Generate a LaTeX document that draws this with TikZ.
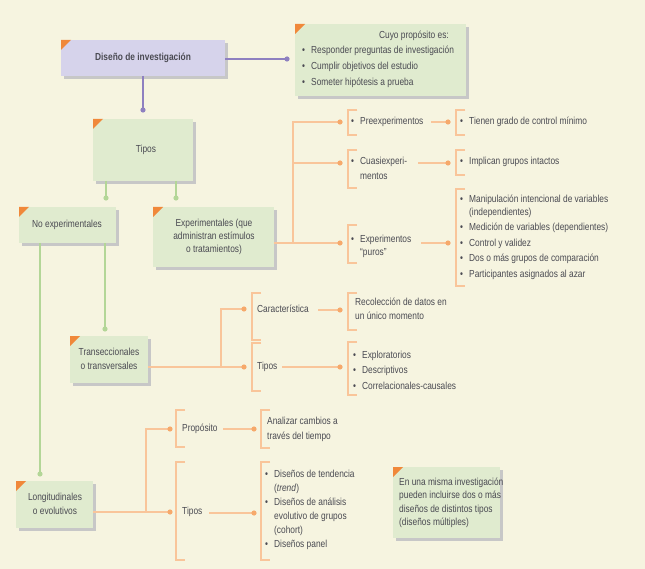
\documentclass[tikz,border=0pt]{standalone}
\usepackage{fontspec}
\setmainfont{Liberation Sans}[FakeStretch=0.82]
\definecolor{bg}{HTML}{F6F4E0}
\definecolor{gbox}{HTML}{E0EBCF}
\definecolor{lbox}{HTML}{D6D3EB}
\definecolor{oline}{HTML}{F9C59A}
\definecolor{odot}{HTML}{F6A96B}
\definecolor{pline}{HTML}{8E80C0}
\definecolor{gline}{HTML}{B3D697}
\definecolor{corner}{HTML}{F0883A}
\definecolor{txt}{HTML}{4A4A52}
\newcommand\bl{\makebox[9pt][l]{\textbullet}}
\newcommand\ind{\hspace*{9pt}}
\tikzset{
  lbl/.style={text=txt, font=\fontsize{10.2}{13}\selectfont, inner sep=0},
  ol/.style={draw=oline, line width=1.6pt},
  brk/.style={draw=oline, line width=1.2pt},
  gl/.style={draw=gline, line width=1.6pt},
  pl/.style={draw=pline, line width=1.6pt},
}
\newcommand\panel[5]{%
  \fill[black!22] (#2+3,#3+3) rectangle (#4+3,#5+3);
  \fill[\pfill] (#2,#3) rectangle (#4,#5);
  \fill[corner] (#2,#3) -- (#2+10,#3) -- (#2,#3+10) -- cycle;
  \coordinate (#1) at ({(#2+#4)/2},{(#3+#5)/2});
}
\newcommand\odt[1]{\fill[odot] (#1) circle (2.6pt);}
\begin{document}
\begin{tikzpicture}[x=1pt,y=-1pt]
\fill[bg] (0,0) rectangle (645,569);
\useasboundingbox (0,0) rectangle (645,569);
% panels
\def\pfill{lbox}\panel{dis}{61}{40}{225}{76}
\def\pfill{gbox}
\panel{prop}{295}{24}{466}{96}
\panel{tip}{93}{119}{193}{181}
\panel{noexp}{19}{207}{116}{243}
\panel{exp}{153}{207}{274}{267}
\panel{trans}{70}{336}{148}{383}
\panel{long}{16}{481}{93}{528}
\panel{note}{393}{467}{500}{538}
% panel texts
\node[lbl,font=\fontsize{10.2}{13}\selectfont\bfseries] (tdis) at (143,58) {Diseño de investigación};
\node[lbl,anchor=east] (tprop) at (449,36) {Cuyo propósito es:};
\node[lbl,anchor=west,align=left] (tpl) at (302,67) {\bl Responder preguntas de investigación\\[3pt]\bl Cumplir objetivos del estudio\\[3pt]\bl Someter hipótesis a prueba};
\node[lbl] (ttip) at (146,150) {Tipos};
\node[lbl] (tnoexp) at (67,225) {No experimentales};
\node[lbl,align=center] (texp) at (214,237) {Experimentales (que\\administran estímulos\\o tratamientos)};
\node[lbl,align=center] (ttrans) at (109,359) {Transeccionales\\[1pt]o transversales};
\node[lbl,align=center] (tlong) at (55,504) {Longitudinales\\[1pt]o evolutivos};
\node[lbl,align=left,anchor=west] (tnote) at (399,503) {En una misma investigación\\[0.5pt]pueden incluirse dos o más\\[0.5pt]diseños de distintos tipos\\[0.5pt](diseños múltiples)};
% purple connectors
\coordinate (d1) at (287,59); \coordinate (d2) at (143,110);
\draw[pl] (225,59) -- (d1); \draw[pl] (143,76) -- (d2);
\fill[pline] (d1) circle (2.6pt); \fill[pline] (d2) circle (2.6pt);
% green connectors
\coordinate (g1) at (106,198); \coordinate (g2) at (176,198);
\coordinate (g3) at (105,329); \coordinate (g4) at (40,474);
\draw[gl] (106,181) -- (g1); \draw[gl] (176,181) -- (g2);
\draw[gl] (105,243) -- (g3); \draw[gl] (40,243) -- (g4);
\foreach \c in {g1,g2,g3,g4} \fill[gline] (\c) circle (2.6pt);
% ---- experimental tree
\coordinate (e1) at (340,122); \coordinate (e2) at (340,163); \coordinate (e3) at (340,243);
\draw[ol] (274,243) -- (e3); \draw[ol] (293,243) |- (e1); \draw[ol] (293,163) -- (e2);
\foreach \c in {e1,e2,e3} \odt{\c}
\draw[brk] (357,110) -| (348,135) -- (357,135);
\draw[brk] (357,150) -| (348,188) -- (357,188);
\draw[brk] (357,225) -| (348,263) -- (357,263);
\node[lbl,anchor=west] (pre) at (351,122) {\bl Preexperimentos};
\node[lbl,anchor=west,align=left] (cua) at (351,168) {\bl Cuasiexperi-\\[2pt]\ind mentos};
\node[lbl,anchor=west,align=left] (pur) at (351,246) {\bl Experimentos\\\ind “puros”};
\coordinate (f1) at (448,122); \coordinate (f2) at (448,163); \coordinate (f3) at (448,243);
\draw[ol,line width=1.2pt] (431,122) -- (f1); \draw[ol,line width=1.2pt] (418,163) -- (f2); \draw[ol,line width=1.2pt] (421,243) -- (f3);
\foreach \c in {f1,f2,f3} \odt{\c}
\draw[brk] (465,110) -| (456,135) -- (465,135);
\draw[brk] (465,150) -| (456,175) -- (465,175);
\draw[brk] (465,189) -| (456,286) -- (465,286);
\node[lbl,anchor=west] (tie) at (460,122) {\bl Tienen grado de control mínimo};
\node[lbl,anchor=west] (imp) at (460,162) {\bl Implican grupos intactos};
\node[lbl,anchor=west,align=left] (lst) at (460,237) {\bl Manipulación intencional de variables\\\ind (independientes)\\[2.5pt]\bl Medición de variables (dependientes)\\[2.5pt]\bl Control y validez\\[2.5pt]\bl Dos o más grupos de comparación\\[2.5pt]\bl Participantes asignados al azar};
% ---- transeccional tree
\coordinate (t1) at (244,309); \coordinate (t2) at (244,367);
\draw[ol] (148,367) -- (t2); \draw[ol] (221,367) |- (t1);
\odt{t1} \odt{t2}
\draw[brk] (261,293) -| (252,340) -- (261,340);
\draw[brk] (261,343) -| (252,391) -- (261,391);
\node[lbl,anchor=west] (car) at (257,309) {Característica};
\node[lbl,anchor=west] (tt) at (257,367) {Tipos};
\coordinate (u1) at (340,310); \coordinate (u2) at (340,367);
\draw[ol,line width=1.2pt] (318,310) -- (u1); \draw[ol,line width=1.2pt] (282,367) -- (u2);
\odt{u1} \odt{u2}
\draw[brk] (357,293) -| (348,330) -- (357,330);
\draw[brk] (357,342) -| (348,395) -- (357,395);
\node[lbl,anchor=west,align=left] (rec) at (355,309) {Recolección de datos en\\[1pt]un único momento};
\node[lbl,anchor=west,align=left] (exl) at (353,370) {\bl Exploratorios\\[2.5pt]\bl Descriptivos\\[2.5pt]\bl Correlacionales-causales};
% ---- longitudinal tree
\coordinate (l1) at (170,429); \coordinate (l2) at (170,512);
\draw[ol] (93,512) -- (l2); \draw[ol] (146,512) |- (l1);
\odt{l1} \odt{l2}
\draw[brk] (185,410) -| (176,447) -- (185,447);
\draw[brk] (185,462) -| (176,560) -- (185,560);
\node[lbl,anchor=west] (pro) at (182,429) {Propósito};
\node[lbl,anchor=west] (lt) at (182,512) {Tipos};
\coordinate (m1) at (254,429); \coordinate (m2) at (254,513);
\draw[ol,line width=1.2pt] (223,429) -- (m1); \draw[ol,line width=1.2pt] (209,513) -- (m2);
\odt{m1} \odt{m2}
\draw[brk] (270,410) -| (261,448) -- (270,448);
\draw[brk] (270,462) -| (261,560) -- (270,560);
\node[lbl,anchor=west,align=left] (ana) at (267,429) {Analizar cambios a\\[2pt]través del tiempo};
\node[lbl,anchor=west,align=left,font=\fontsize{10.2}{14}\selectfont] (dis2) at (265,510) {\bl Diseños de tendencia\\\ind (\textit{trend})\\\bl Diseños de análisis\\\ind evolutivo de grupos\\\ind (cohort)\\\bl Diseños panel};
\end{tikzpicture}
\end{document}
